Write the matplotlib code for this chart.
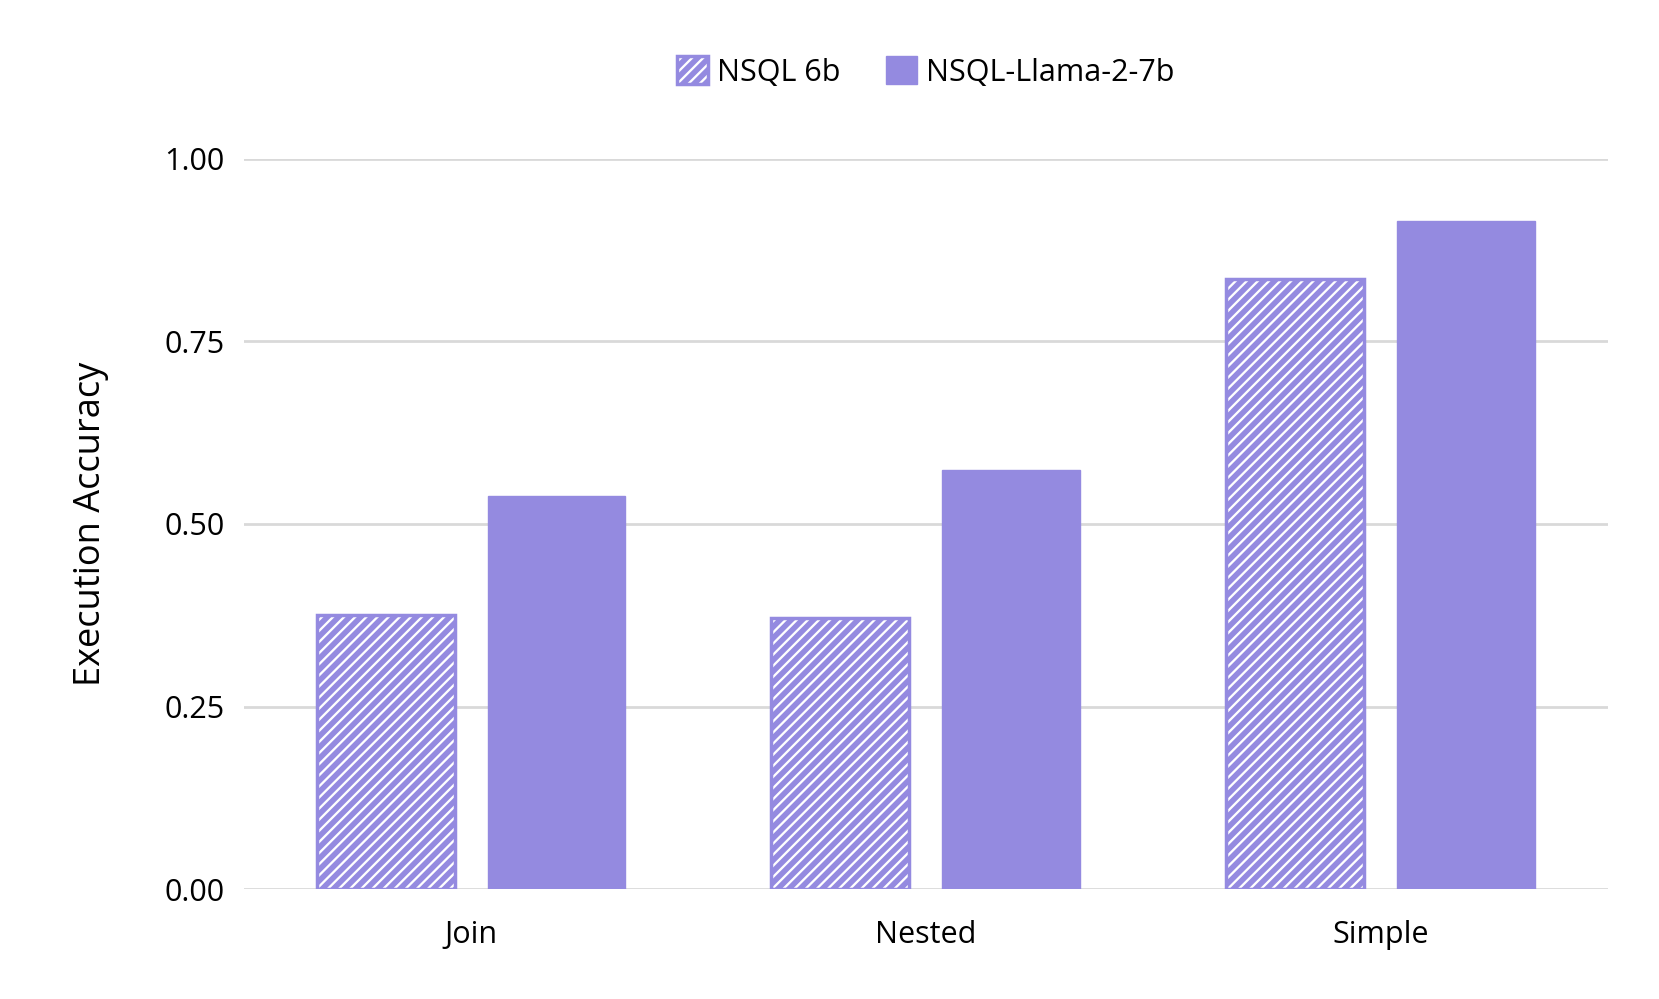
import numpy as np
import matplotlib
matplotlib.use('Agg')
import matplotlib.pyplot as plt

categories = ["Join", "Nested", "Simple"]
nsql_6b = [0.375, 0.371, 0.835]
nsql_llama = [0.538, 0.574, 0.915]
yticks = [0.0, 0.25, 0.5, 0.75, 1.0]

purple = "#948ae0"
plt.rcParams['font.family'] = ['Open Sans', 'DejaVu Sans']
plt.rcParams['hatch.linewidth'] = 4.0
plt.rcParams['hatch.color'] = purple

fig = plt.figure(figsize=(16.59, 9.99), dpi=100)
ax = fig.add_axes([0.147, 0.110, 0.822, 0.731])

x = np.arange(len(categories))
w = 0.303
off = 0.188
ax.bar(x - off, nsql_6b, w, facecolor="white", edgecolor=purple, hatch="///",
       linewidth=2.5, label="NSQL 6b", zorder=3)
ax.bar(x + off, nsql_llama, w, color=purple, edgecolor=purple, linewidth=1,
       label="NSQL-Llama-2-7b", zorder=3)

ax.set_xlim(-0.5, 2.5)
ax.set_ylim(0, 1.0)
ax.set_yticks(yticks)
ax.set_yticklabels([f"{t:.2f}" for t in yticks], fontsize=22)
ax.set_xticks(x)
ax.set_xticklabels(categories, fontsize=22)
ax.tick_params(length=0, pad=14)
ax.tick_params(axis='x', pad=22)
ax.yaxis.grid(True, color="#d9d9d9", linewidth=2, zorder=0)
ax.set_axisbelow(True)
for s in ax.spines.values():
    s.set_visible(False)
ax.clip_on = False
ax.set_ylabel("Execution Accuracy", fontsize=26, labelpad=40)

ax.legend(loc="lower center", bbox_to_anchor=(0.5, 1.06), ncol=2, frameon=False,
          fontsize=22, handlelength=1.0, handleheight=1.0, handletextpad=0.3,
          columnspacing=1.5)

fig.savefig("out.png", dpi=100)
